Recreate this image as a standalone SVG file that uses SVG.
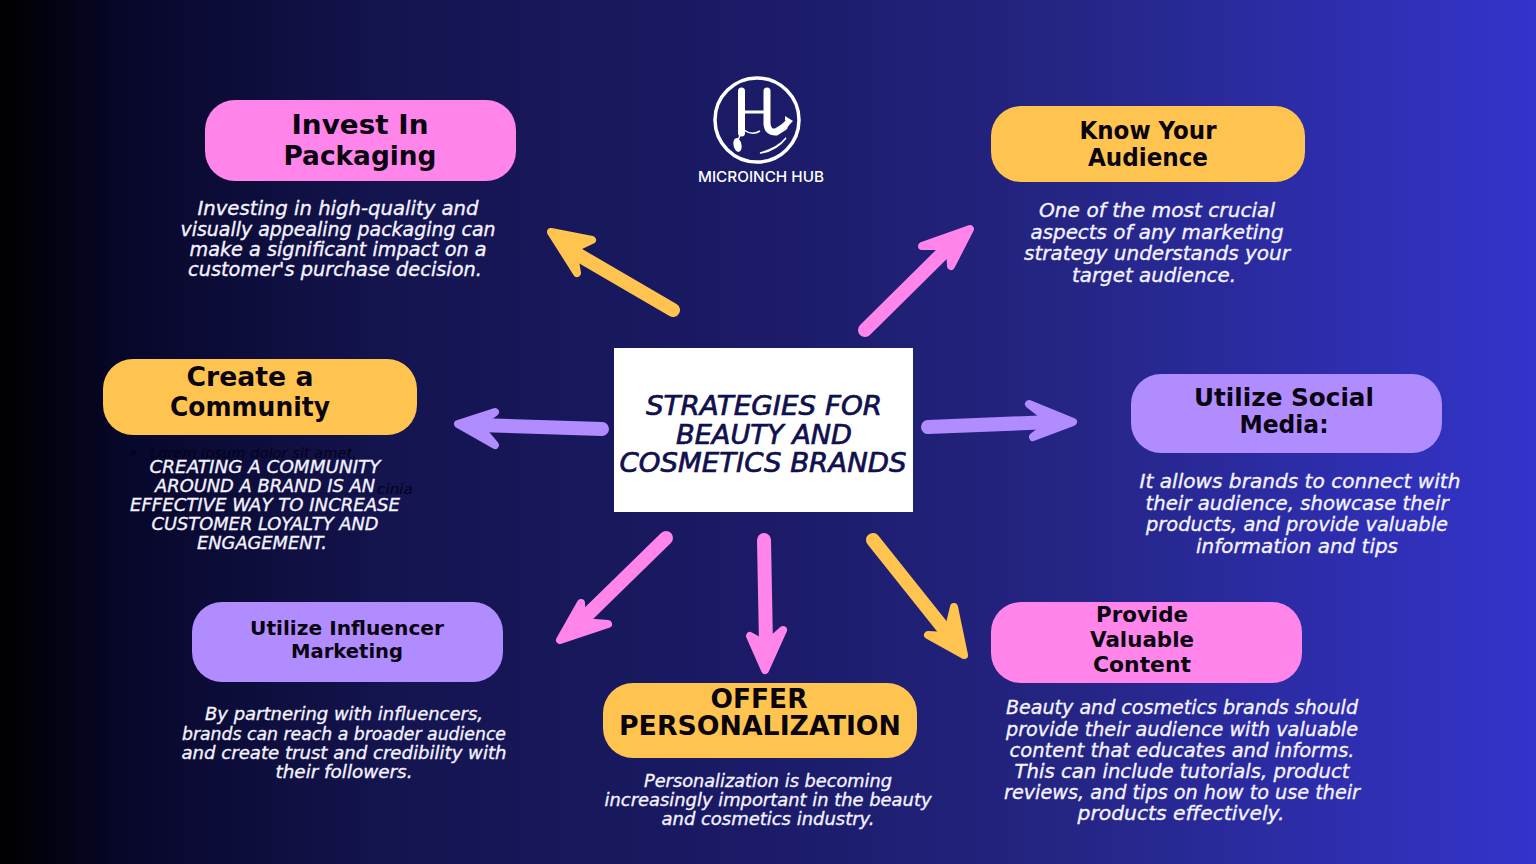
<svg xmlns="http://www.w3.org/2000/svg" width="1536" height="864" viewBox="0 0 1536 864">
<style>
.t{font-family:"DejaVu Sans",sans-serif;font-weight:700;fill:#0a0410;text-anchor:middle}
.b{font-family:"DejaVu Sans",sans-serif;font-style:italic;fill:#f4f2ff;stroke:#f4f2ff;stroke-width:.35;text-anchor:middle}
.c{font-family:"DejaVu Sans",sans-serif;font-style:italic;fill:#10104e;stroke:#10104e;stroke-width:.7;text-anchor:middle;font-size:26px}
.g{font-family:"DejaVu Sans",sans-serif;font-style:italic;fill:#03031c;font-size:14px}
.s{fill:none;stroke-linecap:round;stroke-linejoin:round;stroke-width:14}
.h{stroke-linejoin:round;stroke-width:8}
.pk{fill:#ff85ea}.yl{fill:#ffc44f}.pu{fill:#b08cff}
</style>
<defs><linearGradient id="bg" x1="0" y1="0" x2="1" y2="0">
<stop offset="0" stop-color="#000"/><stop offset=".08" stop-color="#07072a"/><stop offset=".25" stop-color="#14144f"/><stop offset=".5" stop-color="#1b1b68"/><stop offset=".7" stop-color="#252585"/><stop offset="1" stop-color="#3434cc"/></linearGradient></defs>
<rect width="1536" height="864" fill="url(#bg)"/>
<g id="connectors">
<g stroke="#ffc44f"><path class="s" d="M673 310L570 250"/><path class="h yl" d="M592 240L551 232L577 273L573 249Z"/>
<path class="s" d="M873 540L948 634"/><path class="h yl" d="M954 607L964 655L928 635L947 636Z"/></g>
<g stroke="#ff85ea"><path class="s" d="M865 330L952 244"/><path class="h pk" d="M922 246L970 229L951 266L950 246Z"/>
<path class="s" d="M666 538L580 622"/><path class="h pk" d="M581 603L560 640L608 624L582 622Z"/>
<path class="s" d="M764 540L766 645"/><path class="h pk" stroke-width="6" d="M750 636L765 670L783 630L766 645Z"/></g>
<g stroke="#b08cff"><path class="s" stroke-width="16" d="M928 427L1052 422"/><path class="h pu" d="M1029 404L1073 422L1033 437L1052 422Z"/>
<path class="s" stroke-width="16" d="M602 429L478 425"/><path class="h pu" d="M495 412L458 424L495 445L478 425Z"/></g>
</g>
<g id="logo">
<circle cx="757" cy="120" r="42" fill="none" stroke="#fff" stroke-width="3.5"/>
<path d="M741.500 91V133M767 91V124Q768 133 776 132L784 127" fill="none" stroke="#fff" stroke-width="7" stroke-linecap="round"/>
<path d="M745 112H764" fill="none" stroke="#fff" stroke-width="3"/>
<path d="M741 133L738 140M744 130Q752 136 760 131" fill="none" stroke="#fff" stroke-width="1.500"/>
<ellipse cx="737.500" cy="145" rx="4" ry="7" fill="#fff" transform="rotate(-12 737.500 145)"/>
<path d="M781 125L787 119L791 123L786 129ZM785 120L785 116L793 121L790 124Z" fill="#fff"/>
<path d="M760 153Q776 151 786 138Q778 148 760 153Z" fill="none" stroke="#fff" stroke-width="1.500"/>
<text x="761" y="182" text-anchor="middle" font-family="Inter,sans-serif" font-weight="500" font-size="15" fill="#fff" textLength="126" lengthAdjust="spacingAndGlyphs">MICROINCH HUB</text>
</g>
<g id="center">
<rect x="614" y="348" width="299" height="164" fill="#fff"/>
<text class="c" x="764" y="415" textLength="236" lengthAdjust="spacingAndGlyphs">STRATEGIES FOR</text>
<text class="c" x="764" y="444" textLength="176" lengthAdjust="spacingAndGlyphs">BEAUTY AND</text>
<text class="c" x="763" y="472" textLength="287" lengthAdjust="spacingAndGlyphs">COSMETICS BRANDS</text>
</g>
<g id="invest">
<rect class="pk" x="205" y="100" width="311" height="81" rx="30"/>
<text class="t" x="360" y="134" font-size="27" textLength="137" lengthAdjust="spacingAndGlyphs">Invest In</text>
<text class="t" x="360" y="165" font-size="27" textLength="153" lengthAdjust="spacingAndGlyphs">Packaging</text>
<g class="b" font-size="19">
<text x="338" y="215" textLength="281" lengthAdjust="spacingAndGlyphs">Investing in high-quality and</text>
<text x="338" y="236" textLength="315" lengthAdjust="spacingAndGlyphs">visually appealing packaging can</text>
<text x="338" y="256" textLength="297" lengthAdjust="spacingAndGlyphs">make a significant impact on a</text>
<text x="335" y="276" textLength="294" lengthAdjust="spacingAndGlyphs">customer's purchase decision.</text>
</g></g>
<g id="know">
<rect class="yl" x="991" y="106" width="314" height="76" rx="30"/>
<text class="t" x="1148" y="139" font-size="24" textLength="137" lengthAdjust="spacingAndGlyphs">Know Your</text>
<text class="t" x="1148" y="166" font-size="24" textLength="120" lengthAdjust="spacingAndGlyphs">Audience</text>
<g class="b" font-size="20">
<text x="1157" y="217" textLength="236" lengthAdjust="spacingAndGlyphs">One of the most crucial</text>
<text x="1157" y="239" textLength="253" lengthAdjust="spacingAndGlyphs">aspects of any marketing</text>
<text x="1157" y="260" textLength="266" lengthAdjust="spacingAndGlyphs">strategy understands your</text>
<text x="1154" y="282" textLength="164" lengthAdjust="spacingAndGlyphs">target audience.</text>
</g></g>
<g id="community">
<rect class="yl" x="103" y="359" width="314" height="76" rx="30"/>
<text class="t" x="250" y="386" font-size="27" textLength="127" lengthAdjust="spacingAndGlyphs">Create a</text>
<text class="t" x="250" y="416" font-size="27" textLength="160" lengthAdjust="spacingAndGlyphs">Community</text>
<circle cx="133" cy="453" r="2.500" fill="#03031c"/>
<text class="g" x="150" y="458" textLength="207" lengthAdjust="spacingAndGlyphs">Lorem ipsum dolor sit amet,</text>
<text class="g" x="377" y="494" textLength="36" lengthAdjust="spacingAndGlyphs">cinia</text>
<g class="b" font-size="18">
<text x="265" y="473" textLength="231" lengthAdjust="spacingAndGlyphs">CREATING A COMMUNITY</text>
<text x="265" y="492" textLength="220" lengthAdjust="spacingAndGlyphs">AROUND A BRAND IS AN</text>
<text x="265" y="511" textLength="270" lengthAdjust="spacingAndGlyphs">EFFECTIVE WAY TO INCREASE</text>
<text x="265" y="530" textLength="227" lengthAdjust="spacingAndGlyphs">CUSTOMER LOYALTY AND</text>
<text x="262" y="549" textLength="130" lengthAdjust="spacingAndGlyphs">ENGAGEMENT.</text>
</g></g>
<g id="social">
<rect class="pu" x="1131" y="374" width="311" height="79" rx="30"/>
<text class="t" x="1284" y="406" font-size="25" textLength="180" lengthAdjust="spacingAndGlyphs">Utilize Social</text>
<text class="t" x="1284" y="433" font-size="25" textLength="89" lengthAdjust="spacingAndGlyphs">Media:</text>
<g class="b" font-size="20">
<text x="1300" y="488" textLength="321" lengthAdjust="spacingAndGlyphs">It allows brands to connect with</text>
<text x="1297" y="510" textLength="303" lengthAdjust="spacingAndGlyphs">their audience, showcase their</text>
<text x="1297" y="531" textLength="302" lengthAdjust="spacingAndGlyphs">products, and provide valuable</text>
<text x="1297" y="553" textLength="202" lengthAdjust="spacingAndGlyphs">information and tips</text>
</g></g>
<g id="influencer">
<rect class="pu" x="192" y="602" width="311" height="80" rx="30"/>
<text class="t" x="347" y="635" font-size="20" textLength="194" lengthAdjust="spacingAndGlyphs">Utilize Influencer</text>
<text class="t" x="347" y="658" font-size="20" textLength="112" lengthAdjust="spacingAndGlyphs">Marketing</text>
<g class="b" font-size="18">
<text x="344" y="720" textLength="278" lengthAdjust="spacingAndGlyphs">By partnering with influencers,</text>
<text x="344" y="740" textLength="324" lengthAdjust="spacingAndGlyphs">brands can reach a broader audience</text>
<text x="344" y="759" textLength="325" lengthAdjust="spacingAndGlyphs">and create trust and credibility with</text>
<text x="344" y="778" textLength="137" lengthAdjust="spacingAndGlyphs">their followers.</text>
</g></g>
<g id="personalization">
<rect class="yl" x="603" y="683" width="314" height="75" rx="30"/>
<text class="t" x="759" y="708" font-size="26" textLength="97" lengthAdjust="spacingAndGlyphs">OFFER</text>
<text class="t" x="760" y="735" font-size="26" textLength="282" lengthAdjust="spacingAndGlyphs">PERSONALIZATION</text>
<g class="b" font-size="18">
<text x="768" y="787" textLength="248" lengthAdjust="spacingAndGlyphs">Personalization is becoming</text>
<text x="768" y="806" textLength="327" lengthAdjust="spacingAndGlyphs">increasingly important in the beauty</text>
<text x="768" y="825" textLength="213" lengthAdjust="spacingAndGlyphs">and cosmetics industry.</text>
</g></g>
<g id="content">
<rect class="pk" x="991" y="602" width="311" height="81" rx="30"/>
<text class="t" x="1142" y="622" font-size="22" textLength="92" lengthAdjust="spacingAndGlyphs">Provide</text>
<text class="t" x="1142" y="647" font-size="22" textLength="104" lengthAdjust="spacingAndGlyphs">Valuable</text>
<text class="t" x="1142" y="672" font-size="22" textLength="98" lengthAdjust="spacingAndGlyphs">Content</text>
<g class="b" font-size="20">
<text x="1182" y="714" textLength="352" lengthAdjust="spacingAndGlyphs">Beauty and cosmetics brands should</text>
<text x="1182" y="736" textLength="352" lengthAdjust="spacingAndGlyphs">provide their audience with valuable</text>
<text x="1182" y="757" textLength="345" lengthAdjust="spacingAndGlyphs">content that educates and informs.</text>
<text x="1182" y="778" textLength="335" lengthAdjust="spacingAndGlyphs">This can include tutorials, product</text>
<text x="1182" y="799" textLength="356" lengthAdjust="spacingAndGlyphs">reviews, and tips on how to use their</text>
<text x="1181" y="820" textLength="207" lengthAdjust="spacingAndGlyphs">products effectively.</text>
</g></g>
</svg>
